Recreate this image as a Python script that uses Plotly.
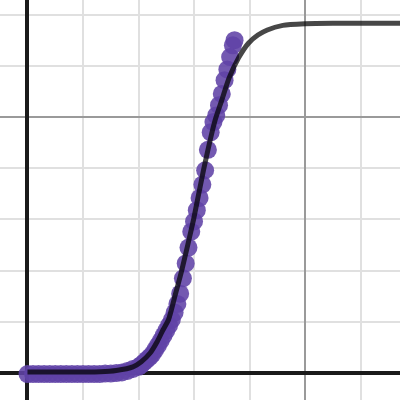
import plotly.graph_objects as go

# measured points (purple)
pts_x = [0.0, 0.1, 0.2, 0.3, 0.4, 0.5, 0.6, 0.7, 0.8, 0.9, 1.0, 1.1, 1.2, 1.3, 1.4, 1.5,
         1.6, 1.7, 1.8, 1.9, 2.0, 2.05, 2.1, 2.15, 2.2, 2.25, 2.3, 2.35, 2.4, 2.45,
         2.5, 2.55, 2.6, 2.65, 2.7, 2.75, 2.8, 2.85, 2.9, 2.95, 3.0, 3.05, 3.1, 3.15,
         3.2, 3.25, 3.3, 3.35, 3.4, 3.45, 3.5, 3.55, 3.6, 3.65, 3.7, 3.73]
pts_y = [-0.02, -0.02, -0.02, -0.02, -0.02, -0.02, -0.02, -0.02, -0.02, -0.02, -0.02,
         -0.02, -0.02, -0.02, -0.01, -0.01, 0.0, 0.01, 0.04, 0.08, 0.12, 0.16, 0.21,
         0.26, 0.31, 0.37, 0.45, 0.54, 0.63, 0.73, 0.83, 0.93, 1.04, 1.18, 1.35, 1.55,
         1.85, 2.14, 2.45, 2.76, 2.96, 3.18, 3.42, 3.68, 3.96, 4.36, 4.70, 4.90, 5.03,
         5.23, 5.45, 5.72, 5.93, 6.17, 6.40, 6.50]

# fitted curve (dark)
fit_x = [0.0, 0.5, 1.0, 1.31, 1.6, 1.9, 2.05, 2.21, 2.33, 2.44, 2.54, 2.66, 2.78,
         2.99, 3.17, 3.38, 3.50, 3.63, 3.80, 3.98, 4.15, 4.32, 4.60, 5.0, 5.5, 6.0, 6.8]
fit_y = [0.02, 0.02, 0.02, 0.025, 0.05, 0.12, 0.22, 0.39, 0.60, 0.84, 1.04, 1.52, 2.01,
         2.99, 3.96, 4.94, 5.33, 5.76, 6.15, 6.44, 6.60, 6.70, 6.79, 6.82, 6.83, 6.83, 6.83]

fig = go.Figure()
fig.add_trace(go.Scatter(
    x=pts_x, y=pts_y, mode='markers',
    marker=dict(color='#6042a6', size=18, opacity=0.88, line=dict(width=0)),
))
fig.add_trace(go.Scatter(
    x=fit_x, y=fit_y, mode='lines',
    line=dict(color='rgba(0,0,0,0.72)', width=5, shape='spline', smoothing=0.6),
))

axis_common = dict(
    dtick=5, showgrid=True, gridcolor='#9a9a9a', gridwidth=1.5,
    minor=dict(dtick=1, showgrid=True, gridcolor='#e0e0e0', gridwidth=1.5),
    zeroline=True, zerolinecolor='#1a1a1a', zerolinewidth=3.5,
    showticklabels=False, ticks='', showline=False,
)
fig.update_xaxes(range=[-0.495, 6.71], **axis_common)
fig.update_yaxes(range=[-0.527, 7.285], **axis_common)

fig.update_layout(
    width=400, height=400, margin=dict(l=0, r=0, t=0, b=0),
    showlegend=False, plot_bgcolor='white', paper_bgcolor='white',
)

# drop the default page margin so the plot sits at the window corner
fig.write_html("out.html", config={'displayModeBar': False},
               post_script="document.body.style.margin='0';")
